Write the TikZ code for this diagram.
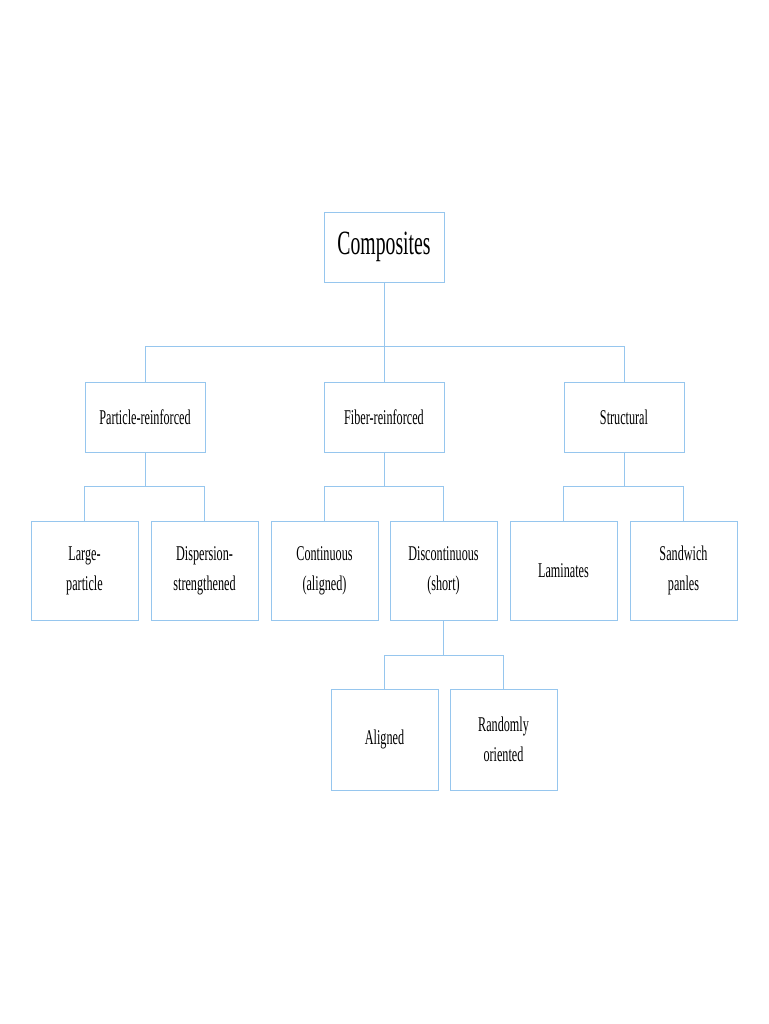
\documentclass[tikz,border=0pt]{standalone}
\usepackage{fontspec}
\setmainfont{Liberation Serif}[FakeStretch=0.58]
\definecolor{boxblue}{RGB}{150,198,238}
\begin{document}
\begin{tikzpicture}[x=1pt,y=-1pt]
\tikzset{every node/.style={draw=boxblue, thick, align=center, inner sep=0pt, font=\fontsize{21}{30}\selectfont}}
\tikzset{wide/.style={minimum width=120pt, minimum height=70pt}}
\tikzset{leaf/.style={minimum width=107pt, minimum height=99pt}}
\useasboundingbox (0,0) rectangle (768,1024);
\node[wide, font=\fontsize{34}{40}\selectfont] (comp) at (384,247) {Composites};
\node[wide] (part) at (145,417) {Particle-reinforced};
\node[wide] (fib) at (384,417) {Fiber-reinforced};
\node[wide] (str) at (624,417) {Structural};
\node[leaf] (large) at (84.5,570.5) {Large-\\particle};
\node[leaf] (disp) at (204.5,570.5) {Dispersion-\\strengthened};
\node[leaf] (cont) at (324.5,570.5) {Continuous\\(aligned)};
\node[leaf] (disc) at (443.5,570.5) {Discontinuous\\(short)};
\node[leaf] (lam) at (563.5,570.5) {Laminates};
\node[leaf] (sand) at (683.5,570.5) {Sandwich\\panles};
\node[leaf, minimum height=101pt] (ali) at (384.5,739.5) {Aligned};
\node[leaf, minimum height=101pt] (rand) at (503.5,739.5) {Randomly\\oriented};

\tikzset{link/.style={draw=boxblue, thick}}
\path[link] (comp.south) |- (145,346) -| (part.north);
\path[link] (comp.south) -- (fib.north);
\path[link] (comp.south) |- (624,346) -| (str.north);
\path[link] (part.south) |- (84.5,486) -| (large.north);
\path[link] (part.south) |- (204.5,486) -| (disp.north);
\path[link] (fib.south) |- (324.5,486) -| (cont.north);
\path[link] (fib.south) |- (443.5,486) -| (disc.north);
\path[link] (str.south) |- (563.5,486) -| (lam.north);
\path[link] (str.south) |- (683.5,486) -| (sand.north);
\path[link] (disc.south) |- (384.5,655) -| (ali.north);
\path[link] (disc.south) |- (503.5,655) -| (rand.north);
\end{tikzpicture}
\end{document}
